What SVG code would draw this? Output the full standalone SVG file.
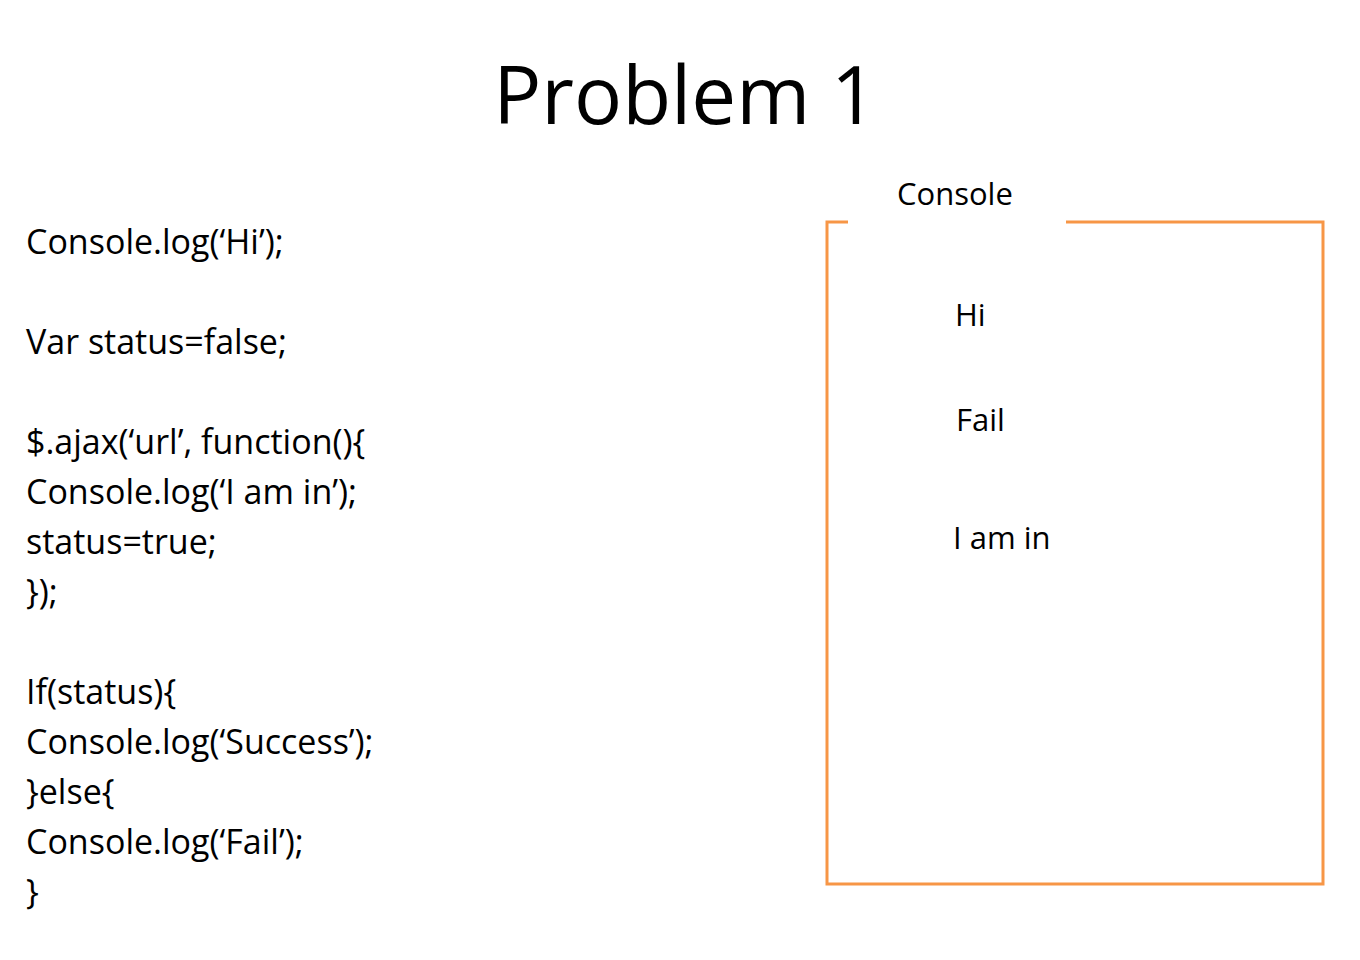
<svg xmlns="http://www.w3.org/2000/svg" width="1360" height="960" viewBox="0 0 1360 960">
<style>
text{font-family:"Open Sans","Noto Sans","Liberation Sans",sans-serif;fill:#000}
.code{font-size:34px}
.out{font-size:31px}
</style>
<rect width="1360" height="960" fill="#fff"/>
<text x="685" y="124" font-size="80" text-anchor="middle">Problem 1</text>
<g id="code" class="code">
<text x="26" y="254">Console.log(‘Hi’);</text>
<text x="26" y="354">Var status=false;</text>
<text x="26" y="454">$.ajax(‘url’, function(){</text>
<text x="26" y="504">Console.log(‘I am in’);</text>
<text x="26" y="554">status=true;</text>
<text x="26" y="604">});</text>
<text x="26" y="704">If(status){</text>
<text x="26" y="754">Console.log(‘Success’);</text>
<text x="26" y="804">}else{</text>
<text x="26" y="854">Console.log(‘Fail’);</text>
<text x="26" y="904">}</text>
</g>
<g id="console">
<path d="M848 222 H827 V884 H1323 V222 H1066" fill="none" stroke="#F79646" stroke-width="3"/>
<text x="897" y="205" class="out">Console</text>
<text x="955" y="326" class="out">Hi</text>
<text x="956" y="431" class="out">Fail</text>
<text x="953" y="549" class="out">I am in</text>
</g>
</svg>
